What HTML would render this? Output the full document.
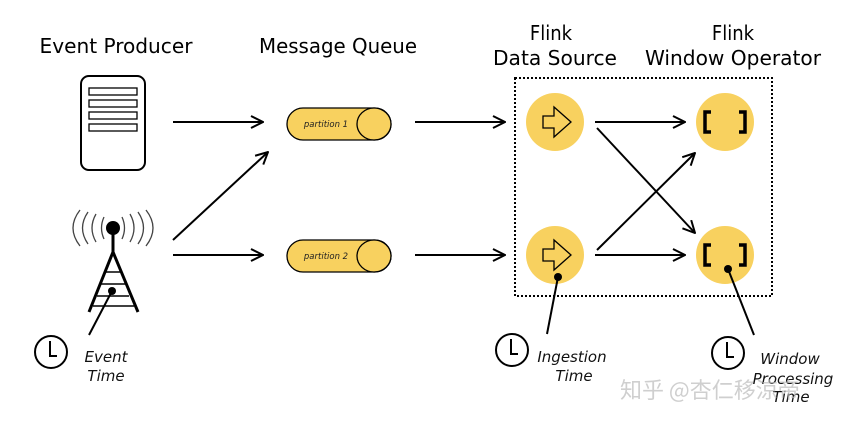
<!DOCTYPE html>
<html><head><meta charset="utf-8"><style>html,body{margin:0;padding:0;background:#fff}svg{display:block}</style></head><body>
<svg width="850" height="424" viewBox="0 0 850 424" xmlns="http://www.w3.org/2000/svg">
<defs>
<marker id="a" viewBox="0 0 14 14" refX="13" refY="7" markerWidth="14" markerHeight="14" markerUnits="userSpaceOnUse" orient="auto">
<path d="M1,1 L13,7 L1,13" fill="none" stroke="#000" stroke-width="2"/>
</marker>
</defs>
<g font-family="'DejaVu Sans Condensed','DejaVu Sans',sans-serif" font-size="20" fill="#000" text-anchor="middle">
<text x="116" y="53" textLength="153" lengthAdjust="spacingAndGlyphs">Event Producer</text>
<text x="338" y="53" textLength="158" lengthAdjust="spacingAndGlyphs">Message Queue</text>
<text x="551" y="40">Flink</text>
<text x="555" y="65" textLength="124" lengthAdjust="spacingAndGlyphs">Data Source</text>
<text x="733" y="40">Flink</text>
<text x="733" y="65" textLength="176" lengthAdjust="spacingAndGlyphs">Window Operator</text>
</g>
<!-- server -->
<rect x="81" y="76" width="64" height="94" rx="8" fill="#fff" stroke="#000" stroke-width="2"/>
<g fill="#fff" stroke="#000" stroke-width="1.3">
<rect x="89" y="88" width="48" height="7"/><rect x="89" y="100" width="48" height="7"/>
<rect x="89" y="112" width="48" height="7"/><rect x="89" y="124" width="48" height="7"/>
</g>
<!-- tower -->
<g fill="none" stroke="#000">
<g stroke-width="1.3" stroke="#444">
<path d="M80,210 Q66,228 80,246"/><path d="M88,212 Q77,228 88,244"/><path d="M96,214 Q88,228 96,242"/><path d="M104,217 Q99,228 104,239"/>
<path d="M146,210 Q160,228 146,246"/><path d="M138,212 Q149,228 138,244"/><path d="M130,214 Q138,228 130,242"/><path d="M122,217 Q127,228 122,239"/>
</g>
<path d="M113,228 V252 L89,312 M113,252 L138,312" stroke-width="3"/>
<g stroke-width="1.5"><path d="M106,272 H120 M101,284 H125 M97,296 H129 M93,306 H134"/></g>
<path d="M112,291 L89,335" stroke-width="2"/>
</g>
<circle cx="113" cy="228" r="7"/><circle cx="112" cy="291" r="4"/>
<!-- arrows -->
<g stroke="#000" stroke-width="2" fill="none" marker-end="url(#a)">
<line x1="173" y1="122" x2="263" y2="122"/>
<line x1="173" y1="240" x2="268" y2="152"/>
<line x1="173" y1="255" x2="263" y2="255"/>
<line x1="415" y1="122" x2="505" y2="122"/>
<line x1="415" y1="255" x2="505" y2="255"/>
<line x1="595" y1="122" x2="685" y2="122"/>
<line x1="597" y1="128" x2="695" y2="233"/>
<line x1="597" y1="250" x2="695" y2="153"/>
<line x1="595" y1="255" x2="685" y2="255"/>
</g>
<!-- partitions -->
<g stroke="#000" stroke-width="1.3" fill="#f8d15f">
<rect x="287" y="108" width="104" height="32" rx="16"/><ellipse cx="374" cy="124" rx="17" ry="16"/>
<rect x="287" y="240" width="104" height="32" rx="16"/><ellipse cx="374" cy="256" rx="17" ry="16"/>
</g>
<g font-family="'DejaVu Sans',sans-serif" font-size="8.5" font-style="italic" fill="#222" text-anchor="middle">
<text x="326" y="127">partition 1</text><text x="326" y="259">partition 2</text>
</g>
<!-- dotted box -->
<rect x="515" y="78" width="257" height="218" fill="none" stroke="#000" stroke-width="2" stroke-dasharray="2,2"/>
<!-- circles -->
<g fill="#f8d15f">
<circle cx="555" cy="122" r="29"/><circle cx="555" cy="255" r="29"/>
<circle cx="725" cy="122" r="29"/><circle cx="725" cy="255" r="29"/>
</g>
<g fill="none" stroke="#000" stroke-width="1.3">
<path d="M543,116 H554 V107 L571,122 L554,137 V128 H543 Z"/>
<path d="M543,249 H554 V240 L571,255 L554,270 V261 H543 Z"/>
</g>
<g fill="none" stroke="#000" stroke-width="3.5">
<path d="M711,112 H705 V132 H711 M739,112 H745 V132 H739"/>
<path d="M711,245 H705 V265 H711 M739,245 H745 V265 H739"/>
</g>
<circle cx="558" cy="277" r="4"/><circle cx="728" cy="269" r="4"/>
<g stroke="#000" stroke-width="2"><line x1="558" y1="277" x2="547" y2="334"/><line x1="728" y1="269" x2="754" y2="335"/></g>
<!-- clocks -->
<g fill="none" stroke="#000" stroke-width="2">
<circle cx="51" cy="352" r="16"/><path d="M50,341 V356 H57"/>
<circle cx="512" cy="350" r="16"/><path d="M511,339 V354 H518"/>
<circle cx="728" cy="353" r="16"/><path d="M727,342 V357 H734"/>
</g>
<g font-family="'DejaVu Sans',sans-serif" font-size="15" font-style="italic" fill="#111" text-anchor="middle">
<text x="106" y="362">Event</text><text x="106" y="381">Time</text>
<text x="572" y="362">Ingestion</text><text x="574" y="381">Time</text>
<text x="790" y="364">Window</text><text x="793" y="384">Processing</text><text x="791" y="402">Time</text>
</g>
<text x="620" y="398" font-family="'Noto Sans CJK SC',sans-serif" font-size="22" fill="#bbb" fill-opacity="0.7">知乎 @杏仁移涼帝</text>
</svg>
</body></html>
